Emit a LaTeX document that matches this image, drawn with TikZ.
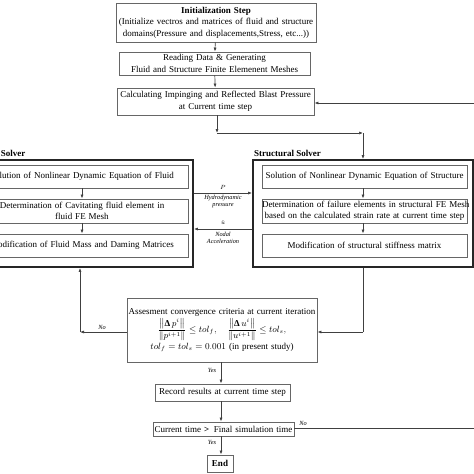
\documentclass[tikz,border=0pt]{standalone}
\usepackage{amsmath}
\usepackage{fontspec}
\setmainfont{Liberation Serif}
\usetikzlibrary{arrows.meta}
\begin{document}
\begin{tikzpicture}[x=1pt,y=-1pt,
  box/.style={draw=black!60, line width=0.8pt, inner sep=0pt, align=center, font=\fontsize{9}{11.5}\selectfont},
  solver/.style={draw=black!85, line width=1.8pt, inner sep=0pt},
  head/.style={font=\fontsize{9}{10}\selectfont\bfseries, inner sep=0pt, anchor=base west},
  arr/.style={draw=black!75, line width=0.7pt, -{Latex[length=4pt,width=3pt]}},
  ln/.style={draw=black!75, line width=0.7pt},
  lab/.style={font=\fontsize{6.3}{7}\selectfont\itshape, inner sep=0pt, align=center}]
\useasboundingbox (0,0) rectangle (474,474);
\fill[white] (0,0) rectangle (474,474);
\clip (0,0) rectangle (474,474);

% top boxes
\node[box, text width=200pt, minimum height=39pt] (init) at (216,22.5)
  {\textbf{Initialization Step}\\(Initialize vectros and matrices of fluid and structure\\domains(Pressure and displacements,Stress, etc...))};
\node[box, text width=191pt, minimum height=23pt] (read) at (214.5,63.5)
  {Reading Data \& Generating\\Fluid and Structure Finite Elemenent Meshes};
\node[box, text width=197pt, minimum height=27pt] (calc) at (215.5,101.5)
  {Calculating Impinging and Reflected Blast Pressure\\at Current time step};
\draw[arr] (init) -- (read);
\draw[arr] (read) -- (calc);

% fluid solver
\node[solver, minimum width=223pt, minimum height=107pt] (fluid) at (81.5,213.5) {};
\node[head] (fhead) at (-22,156) {Fluid Solver};
\node[box, text width=212pt, minimum height=23pt] (f1) at (82,176.5)
  {Solution of Nonlinear Dynamic Equation of Fluid};
\node[box, text width=212pt, minimum height=24pt] (f2) at (82,211)
  {Determination of Cavitating fluid element in\\fluid FE Mesh};
\node[box, text width=212pt, minimum height=23pt] (f3) at (82,245.5)
  {Modification of Fluid Mass and Daming Matrices};
\draw[arr] (f1) -- (f2);
\draw[arr] (f2) -- (f3);

% structural solver
\node[solver, minimum width=220pt, minimum height=107pt] (struct) at (363,213.5) {};
\node[head] (shead) at (254,156) {Structural Solver};
\node[box, text width=205pt, minimum height=23pt] (s1) at (364.5,176.5)
  {Solution of Nonlinear Dynamic Equation of Structure};
\node[box, text width=205pt, minimum height=24pt] (s2) at (364.5,211)
  {\mbox{Determination of failure elements in structural FE Mesh}\\\mbox{based on the calculated strain rate at current time step}};
\node[box, text width=205pt, minimum height=23pt] (s3) at (364.5,245.5)
  {Modification of structural stiffness matrix};
\draw[arr] (s1.south -| 363,0) -- (s2.north -| 363,0);
\draw[arr] (s2.south -| 363,0) -- (s3.north -| 363,0);

% calc -> structural
\coordinate (t1) at (217,133);
\coordinate (t2) at (363,133);
\draw[arr] (calc.south -| t1) -- (t1);
\draw[arr] (t1) -- (t2);
\draw[arr] (t2) -- (struct.north -| t2);

% coupling arrows
\draw[arr] (fluid.east |- 0,193) -- (struct.west |- 0,193);
\draw[arr] (struct.west |- 0,229) -- (fluid.east |- 0,229);
\node[lab] (lP) at (223,187) {$P$};
\node[lab] (lH) at (223,201.5) {Hydrodynamic\\pressure};
\node[lab] (lU) at (223,222.5) {$\ddot{u}$};
\node[lab] (lN) at (223,238) {Nodal\\Acceleration};

% convergence
\node[box, text width=190pt, minimum height=64pt] (conv) at (222,330)
  {\mbox{Assesment convergence criteria at current iteration}\\[1pt]
   \mbox{$\dfrac{\left\|\text{\textbf{Δ}}\,p^{i}\right\|}{\left\|p^{i+1}\right\|}\le tol_{f},\quad
    \dfrac{\left\|\text{\textbf{Δ}}\,u^{i}\right\|}{\left\|u^{i+1}\right\|}\le tol_{s},$}\\[1pt]
   \mbox{$tol_{f}=tol_{s}=0.001$ (in present study)}};

\coordinate (r1) at (363,332);
\draw[ln] (struct.south -| r1) -- (r1);
\draw[arr] (r1) -- (conv.east |- r1);

\coordinate (n1) at (80,332);
\draw[arr] (conv.west |- n1) -- (n1);
\draw[arr] (n1) -- (fluid.south -| n1);
\node[lab] (lno1) at (102,327) {No};

% record / current / end
\node[box, text width=135pt, minimum height=17pt] (rec) at (222.5,392.5)
  {Record results at current time step};
\node[box, text width=141pt, minimum height=14pt] (curr) at (223.5,429)
  {\mbox{Current time \textbf{>}\ \,Final simulation time}};
\node[box, text width=26pt, minimum height=17pt] (end) at (220,463.5) {\textbf{End}};

\draw[arr] (conv.south -| 221,0) -- (rec.north -| 221,0);
\node[lab] (lyes1) at (212,370) {Yes};
\draw[arr] (rec.south -| 221,0) -- (curr.north -| 221,0);
\draw[arr] (curr.south -| 221,0) -- (end.north -| 221,0);
\node[lab] (lyes2) at (212,442) {Yes};

% outer loop
\coordinate (q1) at (480,428);
\coordinate (q2) at (480,103);
\draw[ln] (curr.east |- q1) -- (q1) -- (q2);
\draw[arr] (q2) -- (calc.east |- q2);
\node[lab] (lno2) at (303,423) {No};
\end{tikzpicture}
\end{document}
